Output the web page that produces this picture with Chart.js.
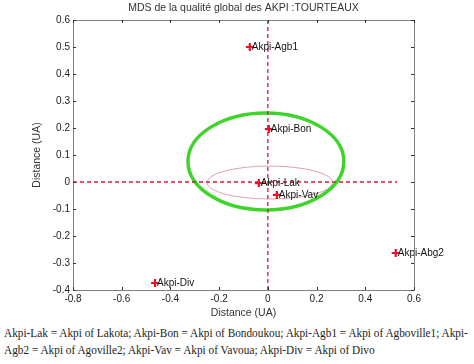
<!DOCTYPE html>
<html>
<head>
<meta charset="utf-8">
<script src="https://cdn.jsdelivr.net/npm/chart.js@4"></script>
<style>
body { margin: 0; background: #fff; }
#cap { position: absolute; left: 4px; top: 325px; font-family: "Liberation Serif", serif; font-size: 12.5px; line-height: 16.5px; color: #222; white-space: nowrap; transform-origin: 0 0; }
</style>
</head>
<body>
<canvas id="chart" width="474" height="320"></canvas>
<div id="cap">Akpi-Lak = Akpi of Lakota; Akpi-Bon = Akpi of Bondoukou; Akpi-Agb1 = Akpi of Agboville1; Akpi-<br>Agb2 = Akpi of Agoville2; Akpi-Vav = Akpi of Vavoua; Akpi-Div = Akpi of Divo</div>
<script>
var names = ["Akpi-Agb1", "Akpi-Bon", "Akpi-Lak", "Akpi-Vav", "Akpi-Abg2", "Akpi-Div"];
var xs = [-0.074, 0.004, -0.037, 0.037, 0.525, -0.463];
var ys = [0.50, 0.196, -0.004, -0.048, -0.263, -0.374];

var xTicks = [-0.8, -0.6, -0.4, -0.2, 0, 0.2, 0.4, 0.6];
var yTicks = [-0.4, -0.3, -0.2, -0.1, 0, 0.1, 0.2, 0.3, 0.4, 0.5, 0.6];

// ellipses: centre x, centre y, half width, half height (data units)
var greenEllipse = [-0.008, 0.076, 0.32, 0.18];
var pinkEllipse = [0.008, -0.002, 0.258, 0.061];

// dashed reference lines
var hLine = [[-0.8, 0], [0.53, 0]];
var vLine = [[0, -0.4], [0, 0.6]];

var FONT = "'Liberation Sans', Arial, sans-serif";

// squeeze the caption so its first line ends where the reference's does
var cap = document.getElementById('cap');
cap.style.transform = 'scaleX(' + (464 / cap.scrollWidth) + ')';

function toPts(arr) {
    return arr.map(function (p) { return { x: p[0], y: p[1] }; });
}

var pts = xs.map(function (x, i) { return { x: x, y: ys[i] }; });

var extras = {
    id: 'extras',
    beforeDatasetsDraw: function (chart) {
        var ctx = chart.ctx, sx = chart.scales.x, sy = chart.scales.y;
        function ell(e, color, w) {
            var cx = sx.getPixelForValue(e[0]), cy = sy.getPixelForValue(e[1]);
            var rx = Math.abs(sx.getPixelForValue(e[0] + e[2]) - cx);
            var ry = Math.abs(sy.getPixelForValue(e[1] + e[3]) - cy);
            ctx.save();
            ctx.beginPath();
            ctx.ellipse(cx, cy, rx, ry, 0, 0, Math.PI * 2);
            ctx.strokeStyle = color;
            ctx.lineWidth = w;
            ctx.stroke();
            ctx.restore();
        }
        ell(pinkEllipse, '#d9a3ad', 1);
        ell(greenEllipse, '#3fd42a', 3.5);
    },
    afterDatasetsDraw: function (chart) {
        var ctx = chart.ctx, sx = chart.scales.x, sy = chart.scales.y;
        ctx.save();
        ctx.font = "10px " + FONT;
        ctx.fillStyle = '#111';
        ctx.textBaseline = 'middle';
        ctx.textAlign = 'left';
        names.forEach(function (n, i) {
            ctx.fillText(n, sx.getPixelForValue(xs[i]) + 2, sy.getPixelForValue(ys[i]));
        });
        ctx.restore();
    },
    afterDraw: function (chart) {
        var ctx = chart.ctx, a = chart.chartArea, sx = chart.scales.x, sy = chart.scales.y;
        ctx.save();
        ctx.strokeStyle = '#808080';
        ctx.lineWidth = 1;
        ctx.strokeRect(Math.round(a.left) + 0.5, Math.round(a.top) + 0.5, Math.round(a.right - a.left), Math.round(a.bottom - a.top));
        ctx.strokeStyle = '#333';
        ctx.beginPath();
        xTicks.forEach(function (v) {
            var px = Math.round(sx.getPixelForValue(v)) + 0.5;
            ctx.moveTo(px, a.bottom); ctx.lineTo(px, a.bottom - 3);
            ctx.moveTo(px, a.top); ctx.lineTo(px, a.top + 3);
        });
        yTicks.forEach(function (v) {
            var py = Math.round(sy.getPixelForValue(v)) + 0.5;
            ctx.moveTo(a.left, py); ctx.lineTo(a.left + 3, py);
            ctx.moveTo(a.right, py); ctx.lineTo(a.right - 3, py);
        });
        ctx.stroke();

        ctx.fillStyle = '#333';
        ctx.textAlign = 'center';
        ctx.textBaseline = 'middle';
        ctx.font = "10.5px " + FONT;
        ctx.fillText('MDS de la qualité global des AKPI :TOURTEAUX', (a.left + a.right) / 2, 8);
        ctx.fillText('Distance (UA)', (a.left + a.right) / 2, 313);
        ctx.translate(37, (a.top + a.bottom) / 2);
        ctx.rotate(-Math.PI / 2);
        ctx.fillText('Distance (UA)', 0, 0);
        ctx.restore();
    }
};

new Chart('chart', {
    type: 'scatter',
    data: {
        datasets: [{
            data: toPts(hLine),
            showLine: true,
            borderColor: '#d41a3c',
            borderWidth: 1.3,
            borderDash: [4, 3],
            pointRadius: 0
        }, {
            data: toPts(vLine),
            showLine: true,
            borderColor: '#d41a3c',
            borderWidth: 1.3,
            borderDash: [4, 3],
            pointRadius: 0
        }, {
            data: pts,
            pointStyle: 'cross',
            pointRadius: 4,
            borderWidth: 2.2,
            borderColor: '#e8102a',
            backgroundColor: '#e8102a'
        }]
    },
    options: {
        responsive: false,
        animation: false,
        events: [],
        layout: { padding: { left: 0, right: 60, top: 20, bottom: 0 } },
        plugins: {
            legend: { display: false },
            tooltip: { enabled: false }
        },
        scales: {
            x: {
                type: 'linear',
                min: -0.8,
                max: 0.6,
                afterFit: function (s) { s.height = 30; },
                afterBuildTicks: function (s) { s.ticks = xTicks.map(function (v) { return { value: v }; }); },
                grid: { display: false, drawTicks: false, tickLength: 0 },
                border: { display: false },
                ticks: {
                    padding: 3,
                    color: '#222',
                    font: { family: FONT, size: 10 },
                    callback: function (v) { return String(Number(v.toFixed(1))); }
                }
            },
            y: {
                type: 'linear',
                min: -0.4,
                max: 0.6,
                afterFit: function (s) { s.width = 73; },
                afterBuildTicks: function (s) { s.ticks = yTicks.map(function (v) { return { value: v }; }); },
                grid: { display: false, drawTicks: false, tickLength: 0 },
                border: { display: false },
                ticks: {
                    padding: 3,
                    color: '#222',
                    font: { family: FONT, size: 10 },
                    callback: function (v) { return String(Number(v.toFixed(1))); }
                }
            }
        }
    },
    plugins: [extras]
});
</script>
</body>
</html>
